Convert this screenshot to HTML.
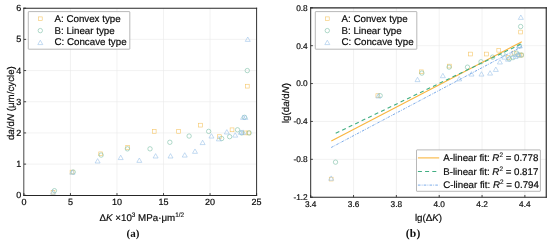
<!DOCTYPE html>
<html><head><meta charset="utf-8"><title>Figure</title>
<style>
html,body{margin:0;padding:0;background:#fff;}
svg{display:block;}
text{text-rendering:geometricPrecision;font-family:"Liberation Sans",sans-serif;fill:#0a0a0a;stroke:#0a0a0a;stroke-width:0.18px;}
.t{font-size:9.75px;}
.ta{font-size:9px;}
.tb{font-size:8.3px;}
.sp{font-size:6.4px;stroke-width:0.12px;}
.cap{font-family:"Liberation Serif",serif;font-weight:bold;font-size:11px;fill:#111;stroke:none;}
</style></head><body>
<svg width="550" height="242" viewBox="0 0 550 242">
<rect width="550" height="242" fill="#fff"/>

<line x1="70.44" y1="8.2" x2="70.44" y2="195.3" stroke="#e9e9e9" stroke-width="0.6"/>
<line x1="116.98" y1="8.2" x2="116.98" y2="195.3" stroke="#e9e9e9" stroke-width="0.6"/>
<line x1="163.52" y1="8.2" x2="163.52" y2="195.3" stroke="#e9e9e9" stroke-width="0.6"/>
<line x1="210.06" y1="8.2" x2="210.06" y2="195.3" stroke="#e9e9e9" stroke-width="0.6"/>
<line x1="23.9" y1="164.12" x2="256.6" y2="164.12" stroke="#e9e9e9" stroke-width="0.6"/>
<line x1="23.9" y1="132.93" x2="256.6" y2="132.93" stroke="#e9e9e9" stroke-width="0.6"/>
<line x1="23.9" y1="101.75" x2="256.6" y2="101.75" stroke="#e9e9e9" stroke-width="0.6"/>
<line x1="23.9" y1="70.57" x2="256.6" y2="70.57" stroke="#e9e9e9" stroke-width="0.6"/>
<line x1="23.9" y1="39.38" x2="256.6" y2="39.38" stroke="#e9e9e9" stroke-width="0.6"/>
<rect x="51.13" y="190.34" width="3.80" height="3.80" fill="none" stroke="#f6c667" stroke-width="0.6"/>
<rect x="70.12" y="170.17" width="3.80" height="3.80" fill="none" stroke="#f6c667" stroke-width="0.6"/>
<rect x="98.79" y="151.93" width="3.80" height="3.80" fill="none" stroke="#f6c667" stroke-width="0.6"/>
<rect x="125.78" y="145.69" width="3.80" height="3.80" fill="none" stroke="#f6c667" stroke-width="0.6"/>
<rect x="152.31" y="129.47" width="3.80" height="3.80" fill="none" stroke="#f6c667" stroke-width="0.6"/>
<rect x="176.70" y="129.47" width="3.80" height="3.80" fill="none" stroke="#f6c667" stroke-width="0.6"/>
<rect x="198.57" y="123.24" width="3.80" height="3.80" fill="none" stroke="#f6c667" stroke-width="0.6"/>
<rect x="217.47" y="134.78" width="3.80" height="3.80" fill="none" stroke="#f6c667" stroke-width="0.6"/>
<rect x="230.13" y="127.91" width="3.80" height="3.80" fill="none" stroke="#f6c667" stroke-width="0.6"/>
<rect x="243.53" y="131.03" width="3.80" height="3.80" fill="none" stroke="#f6c667" stroke-width="0.6"/>
<rect x="246.79" y="131.03" width="3.80" height="3.80" fill="none" stroke="#f6c667" stroke-width="0.6"/>
<rect x="245.39" y="84.26" width="3.80" height="3.80" fill="none" stroke="#f6c667" stroke-width="0.6"/>
<circle cx="54.43" cy="190.68" r="2.2" fill="none" stroke="#7cc0a6" stroke-width="0.6"/>
<circle cx="73.23" cy="172.07" r="2.2" fill="none" stroke="#7cc0a6" stroke-width="0.6"/>
<circle cx="101.16" cy="155.07" r="2.2" fill="none" stroke="#7cc0a6" stroke-width="0.6"/>
<circle cx="127.40" cy="148.84" r="2.2" fill="none" stroke="#7cc0a6" stroke-width="0.6"/>
<circle cx="150.02" cy="148.84" r="2.2" fill="none" stroke="#7cc0a6" stroke-width="0.6"/>
<circle cx="169.85" cy="142.29" r="2.2" fill="none" stroke="#7cc0a6" stroke-width="0.6"/>
<circle cx="189.12" cy="136.05" r="2.2" fill="none" stroke="#7cc0a6" stroke-width="0.6"/>
<circle cx="208.66" cy="131.37" r="2.2" fill="none" stroke="#7cc0a6" stroke-width="0.6"/>
<circle cx="221.69" cy="138.55" r="2.2" fill="none" stroke="#7cc0a6" stroke-width="0.6"/>
<circle cx="229.61" cy="136.68" r="2.2" fill="none" stroke="#7cc0a6" stroke-width="0.6"/>
<circle cx="237.52" cy="129.81" r="2.2" fill="none" stroke="#7cc0a6" stroke-width="0.6"/>
<circle cx="241.71" cy="132.93" r="2.2" fill="none" stroke="#7cc0a6" stroke-width="0.6"/>
<circle cx="249.15" cy="132.93" r="2.2" fill="none" stroke="#7cc0a6" stroke-width="0.6"/>
<circle cx="244.50" cy="117.34" r="2.2" fill="none" stroke="#7cc0a6" stroke-width="0.6"/>
<circle cx="247.29" cy="70.57" r="2.2" fill="none" stroke="#7cc0a6" stroke-width="0.6"/>
<path d="M50.53 194.18L55.53 194.18L53.03 189.81Z" fill="none" stroke="#9cc3ea" stroke-width="0.6"/>
<path d="M69.80 174.22L74.80 174.22L72.30 169.85Z" fill="none" stroke="#9cc3ea" stroke-width="0.6"/>
<path d="M95.12 163.00L100.12 163.00L97.62 158.62Z" fill="none" stroke="#9cc3ea" stroke-width="0.6"/>
<path d="M118.20 159.57L123.20 159.57L120.70 155.19Z" fill="none" stroke="#9cc3ea" stroke-width="0.6"/>
<path d="M136.82 162.37L141.82 162.37L139.32 158.00Z" fill="none" stroke="#9cc3ea" stroke-width="0.6"/>
<path d="M153.11 158.01L158.11 158.01L155.61 153.63Z" fill="none" stroke="#9cc3ea" stroke-width="0.6"/>
<path d="M168.00 158.01L173.00 158.01L170.50 153.63Z" fill="none" stroke="#9cc3ea" stroke-width="0.6"/>
<path d="M182.24 157.07L187.24 157.07L184.74 152.70Z" fill="none" stroke="#9cc3ea" stroke-width="0.6"/>
<path d="M192.48 153.33L197.48 153.33L194.98 148.96Z" fill="none" stroke="#9cc3ea" stroke-width="0.6"/>
<path d="M200.11 144.60L205.11 144.60L202.61 140.23Z" fill="none" stroke="#9cc3ea" stroke-width="0.6"/>
<path d="M208.96 138.05L213.96 138.05L211.46 133.68Z" fill="none" stroke="#9cc3ea" stroke-width="0.6"/>
<path d="M216.40 140.86L221.40 140.86L218.90 136.48Z" fill="none" stroke="#9cc3ea" stroke-width="0.6"/>
<path d="M224.31 134.00L229.31 134.00L226.81 129.62Z" fill="none" stroke="#9cc3ea" stroke-width="0.6"/>
<path d="M232.69 137.12L237.69 137.12L235.19 132.74Z" fill="none" stroke="#9cc3ea" stroke-width="0.6"/>
<path d="M238.28 134.31L243.28 134.31L240.78 129.93Z" fill="none" stroke="#9cc3ea" stroke-width="0.6"/>
<path d="M240.60 134.31L245.60 134.31L243.10 129.93Z" fill="none" stroke="#9cc3ea" stroke-width="0.6"/>
<path d="M240.60 119.34L245.60 119.34L243.10 114.97Z" fill="none" stroke="#9cc3ea" stroke-width="0.6"/>
<path d="M242.93 119.34L247.93 119.34L245.43 114.97Z" fill="none" stroke="#9cc3ea" stroke-width="0.6"/>
<path d="M245.26 41.38L250.26 41.38L247.76 37.01Z" fill="none" stroke="#9cc3ea" stroke-width="0.6"/>
<g stroke="#262626" stroke-linecap="square"><line x1="23.8" y1="8.2" x2="23.8" y2="195.45" stroke-width="0.85"/><line x1="256.6" y1="8.2" x2="256.6" y2="195.45" stroke-width="0.95"/><line x1="23.8" y1="8.2" x2="256.6" y2="8.2" stroke-width="1.08"/><line x1="23.8" y1="195.45" x2="256.6" y2="195.45" stroke-width="1.05"/></g>
<line x1="23.90" y1="195.3" x2="23.90" y2="193.10000000000002" stroke="#262626" stroke-width="0.85"/>
<text class="t ta" x="23.90" y="204.9" text-anchor="middle">0</text>
<line x1="70.44" y1="195.3" x2="70.44" y2="193.10000000000002" stroke="#262626" stroke-width="0.85"/>
<text class="t ta" x="70.44" y="204.9" text-anchor="middle">5</text>
<line x1="116.98" y1="195.3" x2="116.98" y2="193.10000000000002" stroke="#262626" stroke-width="0.85"/>
<text class="t ta" x="116.98" y="204.9" text-anchor="middle">10</text>
<line x1="163.52" y1="195.3" x2="163.52" y2="193.10000000000002" stroke="#262626" stroke-width="0.85"/>
<text class="t ta" x="163.52" y="204.9" text-anchor="middle">15</text>
<line x1="210.06" y1="195.3" x2="210.06" y2="193.10000000000002" stroke="#262626" stroke-width="0.85"/>
<text class="t ta" x="210.06" y="204.9" text-anchor="middle">20</text>
<line x1="256.60" y1="195.3" x2="256.60" y2="193.10000000000002" stroke="#262626" stroke-width="0.85"/>
<text class="t ta" x="256.60" y="204.9" text-anchor="middle">25</text>
<line x1="23.9" y1="195.30" x2="26.099999999999998" y2="195.30" stroke="#262626" stroke-width="0.85"/>
<text class="t ta" x="21.299999999999997" y="198.30" text-anchor="end">0</text>
<line x1="23.9" y1="164.12" x2="26.099999999999998" y2="164.12" stroke="#262626" stroke-width="0.85"/>
<text class="t ta" x="21.299999999999997" y="167.12" text-anchor="end">1</text>
<line x1="23.9" y1="132.93" x2="26.099999999999998" y2="132.93" stroke="#262626" stroke-width="0.85"/>
<text class="t ta" x="21.299999999999997" y="135.93" text-anchor="end">2</text>
<line x1="23.9" y1="101.75" x2="26.099999999999998" y2="101.75" stroke="#262626" stroke-width="0.85"/>
<text class="t ta" x="21.299999999999997" y="104.75" text-anchor="end">3</text>
<line x1="23.9" y1="70.57" x2="26.099999999999998" y2="70.57" stroke="#262626" stroke-width="0.85"/>
<text class="t ta" x="21.299999999999997" y="73.57" text-anchor="end">4</text>
<line x1="23.9" y1="39.38" x2="26.099999999999998" y2="39.38" stroke="#262626" stroke-width="0.85"/>
<text class="t ta" x="21.299999999999997" y="42.38" text-anchor="end">5</text>
<line x1="23.9" y1="8.20" x2="26.099999999999998" y2="8.20" stroke="#262626" stroke-width="0.85"/>
<text class="t ta" x="21.299999999999997" y="11.20" text-anchor="end">6</text>
<rect x="28.3" y="11.6" width="101.5" height="37.6" rx="0.4" fill="#fff" fill-opacity="0.85" stroke="#a6a6a6" stroke-width="0.8"/><rect x="38.40" y="16.90" width="3.80" height="3.80" fill="none" stroke="#f6c667" stroke-width="0.6"/><circle cx="40.30" cy="30.60" r="2.2" fill="none" stroke="#7cc0a6" stroke-width="0.6"/><path d="M37.80 44.60L42.80 44.60L40.30 40.23Z" fill="none" stroke="#9cc3ea" stroke-width="0.6"/><text class="t" x="54.5" y="21.6">A: Convex type</text><text class="t" x="54.5" y="33.5">B: Linear type</text><text class="t" x="54.5" y="45.3">C: Concave type</text>
<text class="t" transform="translate(14.0,103.1) rotate(-90)" text-anchor="middle">d<tspan font-style="italic">a</tspan>/d<tspan font-style="italic">N</tspan> (μm/cycle)</text>
<text class="t" x="141.8" y="221" text-anchor="middle">Δ<tspan font-style="italic">K</tspan> ×10<tspan class="sp" dy="-3.9">3</tspan><tspan dy="3.9"> MPa·μm</tspan><tspan class="sp" dy="-3.9">1/2</tspan></text>
<text class="cap" x="132.9" y="236.5" text-anchor="middle">(a)</text>
<line x1="353.54" y1="7.8" x2="353.54" y2="197.2" stroke="#e9e9e9" stroke-width="0.6"/>
<line x1="396.37" y1="7.8" x2="396.37" y2="197.2" stroke="#e9e9e9" stroke-width="0.6"/>
<line x1="439.21" y1="7.8" x2="439.21" y2="197.2" stroke="#e9e9e9" stroke-width="0.6"/>
<line x1="482.05" y1="7.8" x2="482.05" y2="197.2" stroke="#e9e9e9" stroke-width="0.6"/>
<line x1="524.88" y1="7.8" x2="524.88" y2="197.2" stroke="#e9e9e9" stroke-width="0.6"/>
<line x1="310.7" y1="159.32" x2="546.3" y2="159.32" stroke="#e9e9e9" stroke-width="0.6"/>
<line x1="310.7" y1="121.44" x2="546.3" y2="121.44" stroke="#e9e9e9" stroke-width="0.6"/>
<line x1="310.7" y1="83.56" x2="546.3" y2="83.56" stroke="#e9e9e9" stroke-width="0.6"/>
<line x1="310.7" y1="45.68" x2="546.3" y2="45.68" stroke="#e9e9e9" stroke-width="0.6"/>
<rect x="329.26" y="177.19" width="3.80" height="3.80" fill="none" stroke="#f6c667" stroke-width="0.6"/>
<rect x="375.94" y="93.77" width="3.80" height="3.80" fill="none" stroke="#f6c667" stroke-width="0.6"/>
<rect x="419.42" y="69.93" width="3.80" height="3.80" fill="none" stroke="#f6c667" stroke-width="0.6"/>
<rect x="447.43" y="64.17" width="3.80" height="3.80" fill="none" stroke="#f6c667" stroke-width="0.6"/>
<rect x="468.61" y="52.14" width="3.80" height="3.80" fill="none" stroke="#f6c667" stroke-width="0.6"/>
<rect x="484.56" y="52.14" width="3.80" height="3.80" fill="none" stroke="#f6c667" stroke-width="0.6"/>
<rect x="496.87" y="48.31" width="3.80" height="3.80" fill="none" stroke="#f6c667" stroke-width="0.6"/>
<rect x="506.32" y="55.70" width="3.80" height="3.80" fill="none" stroke="#f6c667" stroke-width="0.6"/>
<rect x="512.16" y="51.15" width="3.80" height="3.80" fill="none" stroke="#f6c667" stroke-width="0.6"/>
<rect x="517.97" y="53.15" width="3.80" height="3.80" fill="none" stroke="#f6c667" stroke-width="0.6"/>
<rect x="519.32" y="53.15" width="3.80" height="3.80" fill="none" stroke="#f6c667" stroke-width="0.6"/>
<rect x="518.74" y="30.14" width="3.80" height="3.80" fill="none" stroke="#f6c667" stroke-width="0.6"/>
<circle cx="335.52" cy="162.14" r="2.2" fill="none" stroke="#7cc0a6" stroke-width="0.6"/>
<circle cx="380.15" cy="95.67" r="2.2" fill="none" stroke="#7cc0a6" stroke-width="0.6"/>
<circle cx="421.88" cy="73.09" r="2.2" fill="none" stroke="#7cc0a6" stroke-width="0.6"/>
<circle cx="449.08" cy="67.16" r="2.2" fill="none" stroke="#7cc0a6" stroke-width="0.6"/>
<circle cx="467.47" cy="67.16" r="2.2" fill="none" stroke="#7cc0a6" stroke-width="0.6"/>
<circle cx="481.05" cy="61.74" r="2.2" fill="none" stroke="#7cc0a6" stroke-width="0.6"/>
<circle cx="492.58" cy="57.16" r="2.2" fill="none" stroke="#7cc0a6" stroke-width="0.6"/>
<circle cx="502.98" cy="54.04" r="2.2" fill="none" stroke="#7cc0a6" stroke-width="0.6"/>
<circle cx="509.32" cy="58.93" r="2.2" fill="none" stroke="#7cc0a6" stroke-width="0.6"/>
<circle cx="512.97" cy="57.60" r="2.2" fill="none" stroke="#7cc0a6" stroke-width="0.6"/>
<circle cx="516.48" cy="53.05" r="2.2" fill="none" stroke="#7cc0a6" stroke-width="0.6"/>
<circle cx="518.29" cy="55.05" r="2.2" fill="none" stroke="#7cc0a6" stroke-width="0.6"/>
<circle cx="521.42" cy="55.05" r="2.2" fill="none" stroke="#7cc0a6" stroke-width="0.6"/>
<circle cx="519.47" cy="45.88" r="2.2" fill="none" stroke="#7cc0a6" stroke-width="0.6"/>
<circle cx="520.64" cy="26.54" r="2.2" fill="none" stroke="#7cc0a6" stroke-width="0.6"/>
<path d="M328.66 180.26L333.66 180.26L331.16 175.88Z" fill="none" stroke="#9cc3ea" stroke-width="0.6"/>
<path d="M375.88 97.94L380.88 97.94L378.38 93.57Z" fill="none" stroke="#9cc3ea" stroke-width="0.6"/>
<path d="M415.02 81.64L420.02 81.64L417.52 77.27Z" fill="none" stroke="#9cc3ea" stroke-width="0.6"/>
<path d="M440.36 77.72L445.36 77.72L442.86 73.35Z" fill="none" stroke="#9cc3ea" stroke-width="0.6"/>
<path d="M456.72 80.90L461.72 80.90L459.22 76.52Z" fill="none" stroke="#9cc3ea" stroke-width="0.6"/>
<path d="M469.00 76.05L474.00 76.05L471.50 71.68Z" fill="none" stroke="#9cc3ea" stroke-width="0.6"/>
<path d="M478.96 76.05L483.96 76.05L481.46 71.68Z" fill="none" stroke="#9cc3ea" stroke-width="0.6"/>
<path d="M487.59 75.09L492.59 75.09L490.09 70.71Z" fill="none" stroke="#9cc3ea" stroke-width="0.6"/>
<path d="M493.33 71.43L498.33 71.43L495.83 67.05Z" fill="none" stroke="#9cc3ea" stroke-width="0.6"/>
<path d="M497.39 63.98L502.39 63.98L499.89 59.60Z" fill="none" stroke="#9cc3ea" stroke-width="0.6"/>
<path d="M501.88 59.16L506.88 59.16L504.38 54.79Z" fill="none" stroke="#9cc3ea" stroke-width="0.6"/>
<path d="M505.50 61.16L510.50 61.16L508.00 56.78Z" fill="none" stroke="#9cc3ea" stroke-width="0.6"/>
<path d="M509.20 56.44L514.20 56.44L511.70 52.07Z" fill="none" stroke="#9cc3ea" stroke-width="0.6"/>
<path d="M512.96 58.52L517.96 58.52L515.46 54.14Z" fill="none" stroke="#9cc3ea" stroke-width="0.6"/>
<path d="M515.39 56.64L520.39 56.64L517.89 52.27Z" fill="none" stroke="#9cc3ea" stroke-width="0.6"/>
<path d="M516.38 56.64L521.38 56.64L518.88 52.27Z" fill="none" stroke="#9cc3ea" stroke-width="0.6"/>
<path d="M516.38 47.88L521.38 47.88L518.88 43.50Z" fill="none" stroke="#9cc3ea" stroke-width="0.6"/>
<path d="M517.37 47.88L522.37 47.88L519.87 43.50Z" fill="none" stroke="#9cc3ea" stroke-width="0.6"/>
<path d="M518.34 19.37L523.34 19.37L520.84 14.99Z" fill="none" stroke="#9cc3ea" stroke-width="0.6"/>
<line x1="331.3" y1="141.1" x2="521.8" y2="41.7" stroke="#f9b53f" stroke-width="1.1"/>
<line x1="335.7" y1="133.3" x2="520.5" y2="44.3" stroke="#41ae82" stroke-width="1.1" stroke-dasharray="4 3.2"/>
<line x1="331.2" y1="147.5" x2="521.5" y2="46.8" stroke="#76a8e8" stroke-width="0.95" stroke-dasharray="2.6 1.2 0.8 1.2"/>
<g stroke="#262626" stroke-linecap="square"><line x1="310.7" y1="7.83" x2="310.7" y2="197.2" stroke-width="0.98"/><line x1="546.25" y1="7.83" x2="546.25" y2="197.2" stroke-width="1.14"/><line x1="310.7" y1="7.83" x2="546.25" y2="7.83" stroke-width="1.2"/><line x1="310.7" y1="197.2" x2="546.25" y2="197.2" stroke-width="1.06"/></g>
<line x1="310.70" y1="197.2" x2="310.70" y2="195.0" stroke="#262626" stroke-width="0.85"/>
<text class="t tb" x="310.70" y="206.7" text-anchor="middle">3.4</text>
<line x1="353.54" y1="197.2" x2="353.54" y2="195.0" stroke="#262626" stroke-width="0.85"/>
<text class="t tb" x="353.54" y="206.7" text-anchor="middle">3.6</text>
<line x1="396.37" y1="197.2" x2="396.37" y2="195.0" stroke="#262626" stroke-width="0.85"/>
<text class="t tb" x="396.37" y="206.7" text-anchor="middle">3.8</text>
<line x1="439.21" y1="197.2" x2="439.21" y2="195.0" stroke="#262626" stroke-width="0.85"/>
<text class="t tb" x="439.21" y="206.7" text-anchor="middle">4.0</text>
<line x1="482.05" y1="197.2" x2="482.05" y2="195.0" stroke="#262626" stroke-width="0.85"/>
<text class="t tb" x="482.05" y="206.7" text-anchor="middle">4.2</text>
<line x1="524.88" y1="197.2" x2="524.88" y2="195.0" stroke="#262626" stroke-width="0.85"/>
<text class="t tb" x="524.88" y="206.7" text-anchor="middle">4.4</text>
<line x1="310.7" y1="197.20" x2="312.9" y2="197.20" stroke="#262626" stroke-width="0.85"/>
<text class="t tb" x="307.7" y="200.10" text-anchor="end">-1.2</text>
<line x1="310.7" y1="159.32" x2="312.9" y2="159.32" stroke="#262626" stroke-width="0.85"/>
<text class="t tb" x="307.7" y="162.22" text-anchor="end">-0.8</text>
<line x1="310.7" y1="121.44" x2="312.9" y2="121.44" stroke="#262626" stroke-width="0.85"/>
<text class="t tb" x="307.7" y="124.34" text-anchor="end">-0.4</text>
<line x1="310.7" y1="83.56" x2="312.9" y2="83.56" stroke="#262626" stroke-width="0.85"/>
<text class="t tb" x="307.7" y="86.46" text-anchor="end">0.0</text>
<line x1="310.7" y1="45.68" x2="312.9" y2="45.68" stroke="#262626" stroke-width="0.85"/>
<text class="t tb" x="307.7" y="48.58" text-anchor="end">0.4</text>
<line x1="310.7" y1="7.80" x2="312.9" y2="7.80" stroke="#262626" stroke-width="0.85"/>
<text class="t tb" x="307.7" y="10.70" text-anchor="end">0.8</text>
<rect x="315.3" y="11.6" width="101.5" height="37.6" rx="0.4" fill="#fff" fill-opacity="0.85" stroke="#a6a6a6" stroke-width="0.8"/><rect x="325.40" y="16.90" width="3.80" height="3.80" fill="none" stroke="#f6c667" stroke-width="0.6"/><circle cx="327.30" cy="30.60" r="2.2" fill="none" stroke="#7cc0a6" stroke-width="0.6"/><path d="M324.80 44.60L329.80 44.60L327.30 40.23Z" fill="none" stroke="#9cc3ea" stroke-width="0.6"/><text class="t" x="341.5" y="21.6">A: Convex type</text><text class="t" x="341.5" y="33.5">B: Linear type</text><text class="t" x="341.5" y="45.3">C: Concave type</text>
<rect x="416.5" y="149.9" width="123.9" height="41.4" rx="0.4" fill="#fff" fill-opacity="0.85" stroke="#a6a6a6" stroke-width="0.8"/>
<line x1="417.9" y1="157.9" x2="439.2" y2="157.9" stroke="#f9b53f" stroke-width="1.1"/>
<line x1="417.9" y1="171.5" x2="439.2" y2="171.5" stroke="#41ae82" stroke-width="1.1" stroke-dasharray="4 3.2"/>
<line x1="417.9" y1="185.1" x2="439.2" y2="185.1" stroke="#76a8e8" stroke-width="0.95" stroke-dasharray="2.6 1.2 0.8 1.2"/>
<text class="t" style="font-size:9.72px" x="443.2" y="161.0">A-linear fit: <tspan font-style="italic">R</tspan><tspan class="sp" dy="-3.9">2</tspan><tspan dy="3.9"> = 0.778</tspan></text>
<text class="t" style="font-size:9.72px" x="443.2" y="174.6">B-linear fit: <tspan font-style="italic">R</tspan><tspan class="sp" dy="-3.9">2</tspan><tspan dy="3.9"> = 0.817</tspan></text>
<text class="t" style="font-size:9.72px" x="443.2" y="188.2">C-linear fit: <tspan font-style="italic">R</tspan><tspan class="sp" dy="-3.9">2</tspan><tspan dy="3.9"> = 0.794</tspan></text>
<text class="t" transform="translate(289.3,103) rotate(-90)" text-anchor="middle">lg(d<tspan font-style="italic">a</tspan>/d<tspan font-style="italic">N</tspan>)</text>
<text class="t" x="428.5" y="220.6" text-anchor="middle">lg(Δ<tspan font-style="italic">K</tspan>)</text>
<text class="cap" x="413.2" y="236.6" text-anchor="middle" style="font-size:11.6px;letter-spacing:0.3px">(b)</text>
</svg></body></html>
